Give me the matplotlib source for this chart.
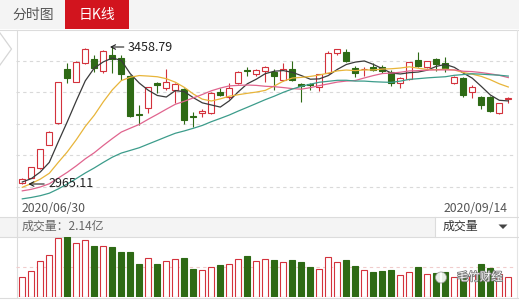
import matplotlib
matplotlib.use('Agg')
import matplotlib.pyplot as plt
import matplotlib.patheffects as pe
from matplotlib.patches import Rectangle, Polygon, Circle
import numpy as np
import pandas as pd

plt.rcParams['font.family'] = ['Noto Sans CJK SC', 'DejaVu Sans']

# 上证指数 日K 2020/06/30 - 2020/09/14
date_labels = ['2020/06/30', '2020/09/14']

open_ = [2967, 2988, 3022, 3105, 3184, 3378, 3334, 3400, 3415, 3373,
         3430, 3418, 3354, 3217, 3238, 3328, 3310, 3303, 3306, 3210,
         3222, 3220, 3298, 3277, 3328, 3376, 3360, 3374, 3369, 3340,
         3378, 3326, 3326, 3316, 3366, 3438, 3442, 3382, 3378, 3386,
         3388, 3368, 3328, 3342, 3412, 3386, 3415, 3400, 3330, 3348,
         3298, 3280, 3280, 3220, 3270]
high = [2985, 3027, 3091, 3155, 3333, 3402, 3410, 3456, 3430, 3448,
        3458.79, 3430, 3358, 3250, 3315, 3333, 3378, 3330, 3310, 3225,
        3236, 3295, 3310, 3330, 3372, 3385, 3380, 3391, 3380, 3400,
        3410, 3330, 3330, 3362, 3446, 3452, 3451, 3390, 3386, 3402,
        3394, 3376, 3352, 3405, 3440, 3410, 3418, 3422, 3354, 3350,
        3322, 3282, 3282, 3258, 3280]
low = [2965.11, 2986, 3020, 3104, 3182, 3330, 3331, 3396, 3370, 3364,
       3364, 3340, 3205, 3178, 3220, 3294, 3305, 3258, 3181, 3170,
       3206, 3216, 3282, 3271, 3325, 3355, 3356, 3334, 3304, 3335,
       3335, 3260, 3304, 3302, 3364, 3430, 3405, 3350, 3354, 3374,
       3364, 3318, 3310, 3340, 3386, 3382, 3372, 3370, 3324, 3280,
       3274, 3234, 3226, 3216, 3258]
close = [2984.67, 3025.98, 3090.57, 3152.81, 3332.88, 3345.34, 3403.44, 3450.59, 3383.32, 3443.29,
         3414.62, 3361.30, 3210.10, 3214.13, 3314.15, 3320.90, 3333.16, 3325.11, 3196.77, 3205.23,
         3227.96, 3294.55, 3286.82, 3310.01, 3367.97, 3371.69, 3377.56, 3386.46, 3354.04, 3379.25,
         3340.29, 3319.27, 3320.73, 3360.10, 3438.80, 3451.09, 3408.13, 3363.90, 3380.68, 3377,
         3373.58, 3329.74, 3347, 3403.81, 3389, 3407, 3398, 3382, 3352, 3286,
         3314, 3250, 3228, 3256, 3274]
# 成交量 (亿)
volume = [2.11, 2.81, 3.91, 4.57, 6.40, 6.58, 5.85, 6.18, 5.59, 5.56,
          5.45, 4.90, 4.90, 3.58, 4.20, 3.58, 3.91, 4.09, 4.24, 3.03,
          2.88, 3.21, 3.50, 3.58, 4.09, 4.46, 3.91, 4.09, 4.02, 3.80,
          4.02, 3.80, 3.25, 3.03, 4.35, 3.80, 4.02, 3.36, 2.92, 2.70,
          2.84, 2.92, 2.37, 2.70, 3.25, 2.48, 2.55, 2.70, 2.18, 2.18,
          2.55, 3.58, 3.14, 2.48, 2.14]
# closes before 06/30, only used for the moving averages
prior_close = [2875.42, 2898.58, 2883.74, 2867.92, 2813.77, 2817.97, 2846.55, 2836.80, 2846.22, 2852.35,
               2915.43, 2921.40, 2923.37, 2919.25, 2930.80, 2937.77, 2943.75, 2943.32, 2920.90, 2919.74,
               2890.03, 2931.75, 2941.95, 2939.32, 2967.63, 2965.27, 2970.62, 2979.55, 2961.52]
ma_windows = [5, 10, 20, 30]
ma_colors = ['#3a3a3a', '#e8b53a', '#e0648e', '#3c9c8b']
grid_prices = [3408, 3295, 3182, 3069, 2956]

RED = '#d3323c'
GREEN = '#2e6a15'
W, H = 519, 300

n = len(close)
x = np.arange(n)
o = np.array(open_); c = np.array(close)
up = c >= o


def px_rect(x0, y0, x1, y1):
    return [x0 / W, 1 - y1 / H, (x1 - x0) / W, (y1 - y0) / H]


fig = plt.figure(figsize=(W / 100, H / 100), dpi=100)

# background / frame, in pixel coordinates
bg = fig.add_axes([0, 0, 1, 1])
bg.set_xlim(0, W); bg.set_ylim(H, 0); bg.axis('off')
bg.add_patch(Rectangle((0, 0), W, 29, fc='#f4f4f4', ec='none'))
bg.add_patch(Rectangle((65, 0), 64, 29, fc='#d2141e', ec='none'))
bg.plot([0, W], [29.5, 29.5], color='#dcdcdc', lw=0.8)
bg.text(33, 15, '分时图', ha='center', va='center', fontsize=10, color='#555555')
bg.text(97, 15, '日K线', ha='center', va='center', fontsize=10, color='white')
bg.plot([0, 11.5, 0], [33, 49, 65], color='#d6d6d6', lw=0.9)
bg.plot([16.5, 16.5], [29.5, 297], color='#dcdcdc', lw=0.8)
bg.plot([516.5, 516.5], [29.5, 297], color='#e4e4e4', lw=0.8)
bg.text(22, 208, date_labels[0], ha='left', va='center', fontsize=8.8, color='#555555')
bg.text(508, 208, date_labels[-1], ha='right', va='center', fontsize=8.8, color='#555555')
bg.add_patch(Rectangle((0, 217), 435, 19.5, fc='#f4f4f4', ec='none'))
bg.plot([0, W], [217, 217], color='#dcdcdc', lw=0.8)
bg.plot([0, W], [236.5, 236.5], color='#dcdcdc', lw=0.8)
bg.plot([435, 435], [217, 236.5], color='#dcdcdc', lw=0.8)
bg.plot([0, W], [297.5, 297.5], color='#dcdcdc', lw=0.8)
bg.text(22, 226.5, '成交量：%.2f亿' % volume[-1], ha='left', va='center', fontsize=8.6, color='#666666')
bg.text(443, 226.5, '成交量', ha='left', va='center', fontsize=8.6, color='#333333')
bg.add_patch(Polygon([[498.5, 224.5], [507.5, 224.5], [503, 229]], closed=True, fc='#444444', ec='none'))

xlim = (-0.7, -0.7 + 500 / 9)

# K线
ax = fig.add_axes(px_rect(16, 30, 516, 200))
ax.set_xlim(*xlim)
ax.set_ylim(2907.45, 3520.05)
ax.axis('off')
for g in grid_prices:
    ax.axhline(g, color='#d9d9d9', lw=0.8, ls=(0, (3, 3)), zorder=1)
for i in range(n):
    col = RED if up[i] else GREEN
    ax.vlines(i, low[i], high[i], color=col, lw=0.8, zorder=2)
    lo, hi = min(o[i], c[i]), max(o[i], c[i])
    ax.add_patch(Rectangle((i - 0.35, lo), 0.7, max(hi - lo, 0.5),
                           fc='white' if up[i] else GREEN, ec=col, lw=0.8, zorder=3))

all_close = pd.Series(prior_close + close)
for win, col in zip(ma_windows, ma_colors):
    ma = all_close.rolling(win).mean().to_numpy()[-n:]
    ax.plot(x, ma, color=col, lw=0.9, zorder=4)

ih = int(np.argmax(high)); il = int(np.argmin(low))
ax.annotate('%.2f' % high[ih], xy=(ih - 0.26, high[ih]), xytext=(18, 0),
            textcoords='offset pixels', ha='left', va='center', fontsize=9, color='#222222',
            arrowprops=dict(arrowstyle='->,head_length=0.35,head_width=0.18', color='#222222',
                            lw=0.8, shrinkA=1, shrinkB=0), annotation_clip=False, zorder=6)
ax.annotate('%.2f' % low[il], xy=(il + 0.67, low[il]), xytext=(20, 0),
            textcoords='offset pixels', ha='left', va='center', fontsize=9, color='#222222',
            arrowprops=dict(arrowstyle='->,head_length=0.35,head_width=0.18', color='#222222',
                            lw=0.8, shrinkA=1, shrinkB=0), annotation_clip=False, zorder=6)

# 成交量
axv = fig.add_axes(px_rect(16, 236.5, 516, 296.5))
axv.set_xlim(*xlim)
axv.set_ylim(0, 6.58)
axv.axis('off')
axv.axhline(6.58 / 2, color='#f0cccc', lw=0.8, ls=(0, (3, 3)), zorder=1)
axv.bar(x, volume, width=0.7, color=['white' if u else GREEN for u in up],
        edgecolor=[RED if u else GREEN for u in up], lw=0.8, zorder=2)

# watermark
top = fig.add_axes([0, 0, 1, 1])
top.set_xlim(0, W); top.set_ylim(H, 0); top.axis('off')
top.patch.set_alpha(0)
top.add_patch(Circle((441, 277.5), 5.5, fc='white', ec='#999999', lw=0.6, alpha=0.9))
top.text(457, 277, '毛竹财经', ha='left', va='center', fontsize=8.2, color='white',
         path_effects=[pe.withStroke(linewidth=1.2, foreground='#777777')])

fig.savefig('out.png', dpi=100)
